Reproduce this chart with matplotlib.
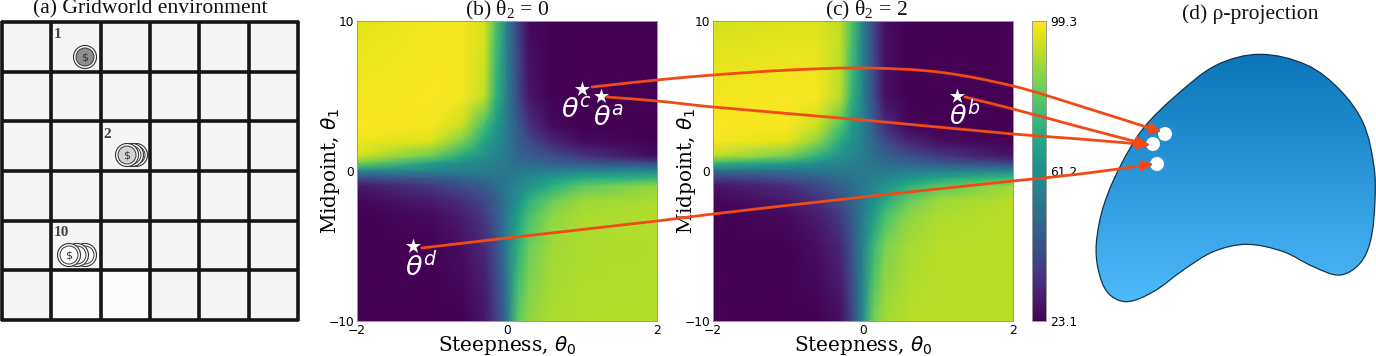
import matplotlib
matplotlib.use('Agg')
import matplotlib.pyplot as plt
import numpy as np
from matplotlib.patches import Circle, FancyArrowPatch, PathPatch
from matplotlib.path import Path

W, H = 1376, 356

# heatmap grid, nodes packed around the origin
steepness = [-2, -1, -0.6, -0.3, -0.15, 0, 0.15, 0.3, 0.6, 1, 2]
midpoint = [10, 5, 3, 2, 1, 0.5, 0, -0.5, -1, -2, -3, -5, -10]

values_b = [
    [96, 98, 98, 95, 78, 56, 37, 25, 23, 23, 23],
    [98, 99, 98.5, 92, 73, 55, 40, 27, 23.5, 23, 23],
    [99, 98.5, 93, 76, 64, 54, 44, 34, 25, 23.5, 23],
    [98, 95, 84, 68, 61, 54, 46, 40, 31, 25, 23],
    [94, 82, 70, 61, 57, 54, 48, 46, 41, 35, 25],
    [82, 66, 60, 57, 55, 53, 50, 49, 47, 45, 40],
    [58, 57, 56, 55, 54, 53, 53, 54, 55, 57, 59],
    [40, 44, 48, 50, 52, 53, 55, 60, 65, 70, 73],
    [28, 36, 41, 45, 50, 54, 58, 62, 71, 80, 87],
    [24, 29, 33, 40, 46, 54, 62, 72, 82, 88, 90],
    [23, 25, 29, 36, 44, 55, 66, 77, 86, 90, 90.5],
    [23, 23.5, 26, 32, 41, 55, 72, 82, 88.5, 90, 90.5],
    [23, 23, 23, 27, 37, 52, 80, 87, 90, 90.5, 90.5],
]
values_c = [
    [94, 95, 95, 92, 78, 57, 38, 26, 23, 23, 23],
    [98, 99, 98.5, 91, 73, 56, 40, 26, 23.5, 23, 23],
    [99, 98.5, 93, 78, 65, 56, 44, 33, 24, 23, 23],
    [99, 96, 86, 70, 62, 55, 48, 40, 31, 26, 23],
    [92, 83, 72, 62, 58, 55, 50, 47, 42, 36, 27],
    [72, 66, 60, 57, 56, 54, 52, 50, 48, 45, 38],
    [50, 52, 53, 54, 54, 54, 54, 54, 55, 56, 58],
    [36, 42, 46, 50, 52, 54, 56, 58, 63, 68, 75],
    [27, 33, 40, 46, 50, 54, 58, 62, 71, 79, 88],
    [24, 28, 33, 41, 47, 54, 61, 70, 81, 88, 91],
    [23, 25, 29, 36, 45, 55, 66, 77, 86, 90, 91.5],
    [23, 23.5, 26, 32, 42, 57, 74, 84, 89, 91, 91.5],
    [23, 23, 23, 26, 38, 60, 83, 89, 91, 91.5, 91.5],
]
vmin, vmid, vmax = 23.1, 61.2, 99.3

# stars on the heatmaps
stars_b = {'c': (1.0, 5.5), 'a': (1.25, 5.0), 'd': (-1.25, -5.0)}
stars_c = {'b': (1.25, 5.0)}

# gridworld, cell shades and rewards
grid_shades = [
    ['#f5f5f5'] * 6,
    ['#f5f5f5'] * 6,
    ['#f5f5f5'] * 6,
    ['#f5f5f5'] * 6,
    ['#f5f5f5'] * 6,
    ['#f5f5f5', '#fbfbfb', '#fcfcfc', '#f5f5f5', '#f5f5f5', '#f5f5f5'],
]
coin_labels = ['1', '2', '10']

blob_outline = [(720, 163), (860, 195), (960, 270), (1030, 370), (1062, 500), (1065, 600),
                (1052, 720), (1020, 790), (960, 825), (880, 800), (790, 755), (680, 733),
                (580, 755), (490, 810), (400, 875), (320, 905), (265, 880), (235, 810),
                (229, 730), (250, 620), (300, 500), (370, 385), (470, 285), (590, 195)]

arrow_c = [(592, 87), (657, 80), (713, 75), (790, 70), (863, 68), (938, 72), (1013, 86), (1080, 106), (1162, 132)]
arrow_a = [(607, 97), (657, 101), (713, 107), (863, 120), (1013, 134), (1080, 139), (1151, 145)]
arrow_b = [(965, 97), (1013, 109), (1080, 127), (1149, 145)]
arrow_d = [(422, 248), (507, 238), (657, 221), (713, 214), (863, 197), (1013, 181), (1080, 174), (1154, 164)]
proj_points = [(1165, 134), (1153, 144), (1157, 164)]

ORANGE = '#f04a16'
SERIF = 'Liberation Serif'


def px_axes(x0, y0, x1, y1):
    return fig.add_axes([x0 / W, 1 - y1 / H, (x1 - x0) / W, (y1 - y0) / H])


def smooth(points, closed=False):
    # smooth bezier through the points, handle length follows the chord
    p = np.array(points, dtype=float)
    n = len(p)
    if closed:
        prev_p, next_p = np.roll(p, 1, axis=0), np.roll(p, -1, axis=0)
    else:
        prev_p = np.vstack([p[0], p[:-1]])
        next_p = np.vstack([p[1:], p[-1]])
    tang = next_p - prev_p
    tang = tang / np.linalg.norm(tang, axis=1, keepdims=True)
    verts = [p[0]]
    codes = [Path.MOVETO]
    for i in range(n if closed else n - 1):
        j = (i + 1) % n
        d = np.linalg.norm(p[j] - p[i]) / 3
        verts += [p[i] + tang[i] * d, p[j] - tang[j] * d, p[j]]
        codes += [Path.CURVE4] * 3
    return Path(verts, codes)


def heatmap(x0, values, stars):
    ax = px_axes(x0, 21, x0 + 300, 321)
    mesh = ax.pcolormesh(steepness, midpoint, np.array(values), shading='gouraud',
                         cmap='viridis', vmin=vmin, vmax=vmax)
    ax.set_xlim(-2, 2)
    ax.set_ylim(-10, 10)
    ax.set_xticks([-2, 0, 2])
    ax.set_yticks([-10, 0, 10])
    ax.tick_params(length=0, labelsize=8.8, pad=2)
    for s in ax.spines.values():
        s.set_color('#999999')
        s.set_linewidth(0.7)
    ax.set_xlabel(r'Steepness, $\theta_0$', family='DejaVu Serif', fontsize=14.4, labelpad=-2)
    ax.set_ylabel(r'Midpoint, $\theta_1$', family='DejaVu Serif', fontsize=14.4, labelpad=-10)
    for name, (sx, sy) in stars.items():
        ax.scatter([sx], [sy], marker='*', s=130, color='white', linewidths=0, zorder=3)
    return ax, mesh


fig = plt.figure(figsize=(W / 100, H / 100), dpi=100)

# (a) gridworld
ax_a = px_axes(0, 20, 300, 323)
ax_a.set_xlim(-2 / 49.3, 6 + 2 / 49.3)
ax_a.set_ylim(6 + 3 / 49.5, -2 / 49.5)
ax_a.axis('off')
for r, row in enumerate(grid_shades):
    for c, shade in enumerate(row):
        ax_a.fill([c, c + 1, c + 1, c], [r, r, r + 1, r + 1], color=shade, lw=0)
for i in range(7):
    ax_a.plot([i, i], [-0.03, 6.03], color='#151515', lw=2.6, solid_capstyle='butt')
    ax_a.plot([-0.03, 6.03], [i, i], color='#151515', lw=2.6, solid_capstyle='butt')

overlay = fig.add_axes([0, 0, 1, 1], zorder=5)
overlay.set_xlim(0, W)
overlay.set_ylim(H, 0)
overlay.axis('off')
overlay.patch.set_alpha(0)


def coin(x, y, fill):
    overlay.add_patch(Circle((x, y), 11.5, fc='white', ec='#333333', lw=0.8, zorder=2))
    overlay.add_patch(Circle((x, y), 9, fc=fill, ec='#333333', lw=0.7, zorder=2))


def dollar(x, y):
    overlay.text(x, y, '$', ha='center', va='center', fontsize=8, color='#333333', zorder=3, parse_math=False)


coin(85, 57, '#8f8f8f')
dollar(85, 57)
coin(136, 155, 'white')
coin(132, 155, 'white')
coin(127, 155, '#d4d4d4')
dollar(127, 155)
coin(85, 255, 'white')
coin(77, 255, 'white')
coin(69, 255, 'white')
dollar(69, 255)
for label, (lx, ly) in zip(coin_labels, [(54, 35), (103, 134), (54, 233)]):
    overlay.text(lx, ly, label, family=SERIF, weight='bold', fontsize=11, color='#444444',
                 ha='left', va='center', zorder=3)

# (b), (c) heatmaps
ax_b, mesh_b = heatmap(357, values_b, stars_b)
ax_c, mesh_c = heatmap(713, values_c, stars_c)

cax = px_axes(1032, 21, 1046, 321)
cbar = fig.colorbar(mesh_c, cax=cax, ticks=[vmin, vmid, vmax])
cbar.ax.set_yticklabels(['23.1', '61.2', '99.3'])
cbar.ax.tick_params(length=0, labelsize=8.8, pad=3)
cbar.outline.set_edgecolor('#999999')
cbar.outline.set_linewidth(0.7)

# (d) blob with vertical gradient
blob_px = [(1020 + bx / 3, by / 3) for bx, by in blob_outline]
blob_path = smooth(blob_px, closed=True)
shade = np.linspace(0, 1, 256).reshape(-1, 1)
top_col = np.array([10, 117, 184]) / 255
bot_col = np.array([78, 186, 252]) / 255
grad = (top_col + (bot_col - top_col) * shade[:, :, None]).reshape(256, 1, 3)
im = overlay.imshow(grad, extent=(1090, 1376, 302, 54), aspect='auto', zorder=1)
patch = PathPatch(blob_path, fc='none', ec='#12344a', lw=0.9, zorder=1.5, transform=overlay.transData)
overlay.add_patch(patch)
im.set_clip_path(patch)
overlay.set_xlim(0, W)
overlay.set_ylim(H, 0)
for p in proj_points:
    overlay.add_patch(Circle(p, 7, fc='white', ec='none', zorder=3))

# arrows
for pts in [arrow_c, arrow_a, arrow_b, arrow_d]:
    overlay.add_patch(FancyArrowPatch(path=smooth(pts), arrowstyle='-|>,head_length=7,head_width=3',
                                      color=ORANGE, lw=2, shrinkA=0, shrinkB=0, zorder=4))

# labels
for txt, (tx, ty) in zip([r'$\theta^c$', r'$\theta^a$', r'$\theta^d$', r'$\theta^b$'],
                         [(561, 118), (593, 125), (405, 276), (949, 125)]):
    overlay.text(tx, ty, txt, color='white', fontsize=19.5, ha='left', va='baseline', zorder=4.5)

for txt, tx, ty in [('(a) Gridworld environment', 150, 9),
                    ('(b) θ$_\\mathregular{2}$ = 0', 507, 10),
                    ('(c) θ$_\\mathregular{2}$ = 2', 866, 10),
                    ('(d) ρ-projection', 1250, 14)]:
    overlay.text(tx, ty, txt, family=SERIF, fontsize=15.6, ha='center', va='center', color='#111111')

fig.savefig('out.png', dpi=100)
